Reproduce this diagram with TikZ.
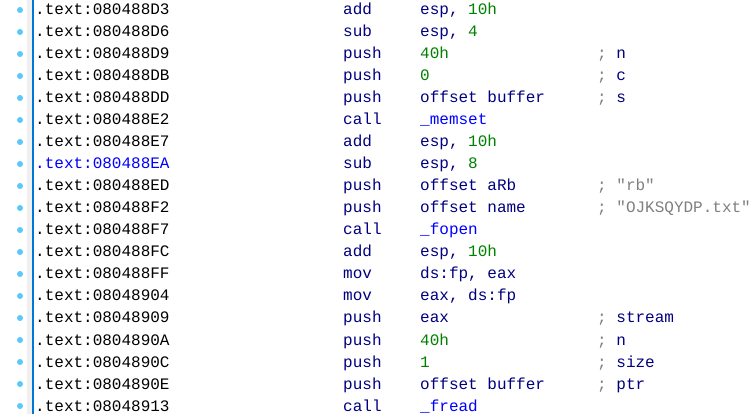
\documentclass[tikz,border=0pt]{standalone}
\usepackage{fontspec}
\setmonofont{Liberation Mono}
\begin{document}
\begin{tikzpicture}[x=1pt,y=1pt,
  t/.style={anchor=base west,inner sep=0pt,font=\ttfamily\fontsize{16}{16}\selectfont},
  dot/.style={circle,fill=dotc,inner sep=0pt,minimum size=6pt}]
\definecolor{dotc}{RGB}{90,200,250}
\definecolor{navy}{RGB}{0,0,128}
\definecolor{grn}{RGB}{0,128,0}
\definecolor{fn}{RGB}{0,0,255}
\definecolor{cm}{RGB}{128,128,128}
\definecolor{vl}{RGB}{0,120,215}
\useasboundingbox (0,0) rectangle (753,-414);
\fill[white] (0,0) rectangle (753,-414);
\fill[black!6] (27,0) rectangle (33,-414);
\draw[vl,line width=1.2pt] (33,0) -- (33,-414);
\newcommand\rowi[5]{%
  \node[dot] (d#1) at (20,{-(10+22*#1)}) {};
  \node[t] (a#1) at (35,{-(15+22*#1)}) {#2};
  \node[t,text=navy] (m#1) at (343,{-(15+22*#1)}) {#3};
  \node[t,text=navy] (o#1) at (420,{-(15+22*#1)}) {#4};
  \node[t,text=cm] (c#1) at (597,{-(15+22*#1)}) {#5};}
\rowi{0}{.text:080488D3}{add}{esp, \textcolor{grn}{10h}}{}
\rowi{1}{.text:080488D6}{sub}{esp, \textcolor{grn}{4}}{}
\rowi{2}{.text:080488D9}{push}{\textcolor{grn}{40h}}{; \textcolor{navy}{n}}
\rowi{3}{.text:080488DB}{push}{\textcolor{grn}{0}}{; \textcolor{navy}{c}}
\rowi{4}{.text:080488DD}{push}{offset buffer}{; \textcolor{navy}{s}}
\rowi{5}{.text:080488E2}{call}{\textcolor{fn}{\_memset}}{}
\rowi{6}{.text:080488E7}{add}{esp, \textcolor{grn}{10h}}{}
\rowi{7}{\textcolor{fn}{.text:080488EA}}{sub}{esp, \textcolor{grn}{8}}{}
\rowi{8}{.text:080488ED}{push}{offset aRb}{; "rb"}
\rowi{9}{.text:080488F2}{push}{offset name}{; "OJKSQYDP.txt"}
\rowi{10}{.text:080488F7}{call}{\textcolor{fn}{\_fopen}}{}
\rowi{11}{.text:080488FC}{add}{esp, \textcolor{grn}{10h}}{}
\rowi{12}{.text:080488FF}{mov}{ds:fp, eax}{}
\rowi{13}{.text:08048904}{mov}{eax, ds:fp}{}
\rowi{14}{.text:08048909}{push}{eax}{; \textcolor{navy}{stream}}
\rowi{15}{.text:0804890A}{push}{\textcolor{grn}{40h}}{; \textcolor{navy}{n}}
\rowi{16}{.text:0804890C}{push}{\textcolor{grn}{1}}{; \textcolor{navy}{size}}
\rowi{17}{.text:0804890E}{push}{offset buffer}{; \textcolor{navy}{ptr}}
\rowi{18}{.text:08048913}{call}{\textcolor{fn}{\_fread}}{}
\end{tikzpicture}
\end{document}
